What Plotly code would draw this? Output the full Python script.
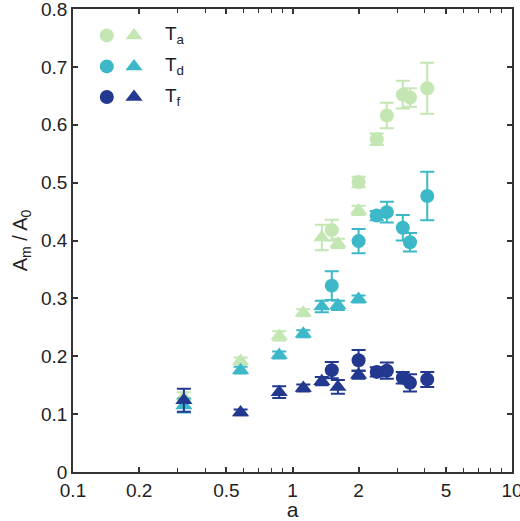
import plotly.graph_objects as go

# triangles: a values and A_m/A_0 for Ta, Td, Tf
tri_a = [0.32, 0.58, 0.87, 1.12, 1.36, 1.61, 2.0]
ta_tri = [0.130, 0.192, 0.235, 0.275, 0.405, 0.395, 0.452]
ta_tri_err = [0.008, 0.006, 0.008, 0.006, 0.022, 0.008, 0.008]
td_tri = [0.115, 0.176, 0.202, 0.239, 0.286, 0.288, 0.299]
td_tri_err = [0.012, 0.006, 0.006, 0.006, 0.010, 0.008, 0.006]
tf_tri = [0.124, 0.103, 0.138, 0.145, 0.157, 0.147, 0.168]
tf_tri_err = [0.020, 0.005, 0.010, 0.006, 0.007, 0.012, 0.007]

# circles
circ_a = [1.51, 2.0, 2.42, 2.69, 3.18, 3.43, 4.11]
ta_circ = [0.418, 0.501, 0.575, 0.616, 0.652, 0.647, 0.663]
ta_circ_err = [0.018, 0.009, 0.010, 0.022, 0.024, 0.016, 0.044]
td_circ = [0.322, 0.399, 0.443, 0.449, 0.422, 0.397, 0.477]
td_circ_err = [0.025, 0.021, 0.008, 0.018, 0.022, 0.016, 0.042]
tf_circ = [0.176, 0.193, 0.173, 0.175, 0.163, 0.154, 0.160]
tf_circ_err = [0.014, 0.018, 0.008, 0.014, 0.010, 0.015, 0.013]

names = ["a", "d", "f"]
colors = ["#c4e6b3", "#3cb8c8", "#23388f"]

x_ticks = [0.1, 0.2, 0.5, 1, 2, 5, 10]
x_minor = [0.3, 0.4, 0.6, 0.7, 0.8, 0.9, 3, 4, 6, 7, 8, 9]
y_ticks = [0, 0.1, 0.2, 0.3, 0.4, 0.5, 0.6, 0.7, 0.8]

fig = go.Figure()

series = [
    (ta_tri, ta_tri_err, ta_circ, ta_circ_err),
    (td_tri, td_tri_err, td_circ, td_circ_err),
    (tf_tri, tf_tri_err, tf_circ, tf_circ_err),
]

for (ty, te, cy, ce), col in zip(series, colors):
    fig.add_trace(go.Scatter(
        x=tri_a, y=ty, mode="markers",
        marker=dict(symbol="triangle-up", size=15, color=col),
        error_y=dict(type="data", array=te, color=col, thickness=2, width=7),
        showlegend=False))
    fig.add_trace(go.Scatter(
        x=circ_a, y=cy, mode="markers",
        marker=dict(symbol="circle", size=14, color=col),
        error_y=dict(type="data", array=ce, color=col, thickness=2, width=7),
        showlegend=False))

# legend drawn on an overlay axis in paper-like units
leg_y = [0.943, 0.876, 0.810]
fig.add_trace(go.Scatter(
    x=[0.077] * 3, y=leg_y, mode="markers", xaxis="x2", yaxis="y2",
    marker=dict(symbol="circle", size=14, color=colors), showlegend=False))
fig.add_trace(go.Scatter(
    x=[0.139] * 3, y=leg_y, mode="markers", xaxis="x2", yaxis="y2",
    marker=dict(symbol="triangle-up", size=15, color=colors), showlegend=False))
for n, yy in zip(names, leg_y):
    fig.add_annotation(
        x=0.205, y=yy, xref="paper", yref="paper", xanchor="left",
        yanchor="middle", showarrow=False,
        text="T<sub>%s</sub>" % n, font=dict(size=19, color="#222"))

axis_common = dict(
    showline=True, linecolor="#333", linewidth=1.5, mirror="ticks",
    ticks="inside", ticklen=5, tickcolor="#333", tickwidth=1.5,
    showgrid=False, zeroline=False, automargin=False,
    ticklabeloverflow="allow",
    tickfont=dict(size=19, color="#222"),
)

fig.update_layout(
    width=520, height=521,
    margin=dict(l=73, r=8, t=9, b=49),
    plot_bgcolor="white", paper_bgcolor="white",
    font=dict(family="Liberation Sans, Arial, sans-serif", color="#222"),
    xaxis=dict(
        type="log", range=[-1, 1], tickvals=x_ticks,
        ticktext=[str(v) for v in x_ticks],
        minor=dict(tickvals=x_minor, ticks="inside", ticklen=4,
                   tickcolor="#333", tickwidth=1.2),
        title=dict(text="a", font=dict(size=21), standoff=2),
        **axis_common),
    yaxis=dict(
        range=[0, 0.8], tickvals=y_ticks,
        ticktext=[str(v) for v in y_ticks],
        title=dict(text="A<sub>m</sub> / A<sub>0</sub>", font=dict(size=20), standoff=8),
        **axis_common),
    xaxis2=dict(overlaying="x", range=[0, 1], visible=False),
    yaxis2=dict(overlaying="y", range=[0, 1], visible=False),
)

# the page's default body margin would push the figure off the window
fig.write_html("out.html", config={"displayModeBar": False},
               post_script="document.body.style.margin='0';")
